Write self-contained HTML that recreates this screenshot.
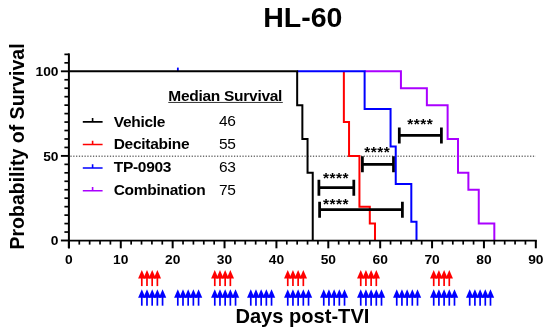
<!DOCTYPE html><html><head><meta charset="utf-8"><title>HL-60</title><style>html,body{margin:0;padding:0;background:#fff}svg{display:block;filter:blur(0.3px)}text{font-family:"Liberation Sans", sans-serif;fill:#000}</style></head><body>
<svg width="550" height="334" viewBox="0 0 550 334">
<rect width="550" height="334" fill="#fff"/>
<text transform="translate(302.80 27.10) scale(1.030 1.000)" font-size="27.7" font-weight="bold" text-anchor="middle">HL-60</text>
<line x1="70.40" y1="156.3" x2="535.8" y2="156.3" stroke="#707070" stroke-width="1.4" stroke-dasharray="1.25 1.57"/>
<path d="M343.86 71.30 H343.86 V122.06 H349.05 V155.90 H359.43 V206.66 H369.80 V223.58 H374.99 V240.50" fill="none" stroke="#ff0000" stroke-width="2" stroke-linejoin="miter"/>
<path d="M318.90 187.70 H353.80 M318.90 179.70 V195.70 M353.80 179.70 V195.70" stroke="#000" stroke-width="2.75" fill="none"/>
<path d="M319.60 209.70 H402.40 M319.60 201.70 V217.70 M402.40 201.70 V217.70" stroke="#000" stroke-width="2.75" fill="none"/>
<path d="M362.40 164.30 H393.50 M362.40 156.30 V172.30 M393.50 156.30 V172.30" stroke="#000" stroke-width="2.75" fill="none"/>
<path d="M399.30 135.40 H441.40 M399.30 127.40 V143.40 M441.40 127.40 V143.40" stroke="#000" stroke-width="2.75" fill="none"/>
<text transform="translate(323.00 182.70) scale(1.000 0.999)" font-size="15.5" font-weight="bold" text-anchor="start" letter-spacing="0.45">****</text>
<text transform="translate(323.10 208.80) scale(1.000 0.999)" font-size="15.5" font-weight="bold" text-anchor="start" letter-spacing="0.45">****</text>
<text transform="translate(364.20 157.00) scale(1.000 0.999)" font-size="15.5" font-weight="bold" text-anchor="start" letter-spacing="0.45">****</text>
<text transform="translate(407.20 129.10) scale(1.000 0.999)" font-size="15.5" font-weight="bold" text-anchor="start" letter-spacing="0.45">****</text>
<path d="M364.62 71.30 H400.93 V88.22 H426.87 V105.14 H447.62 V138.98 H458.00 V172.82 H468.38 V189.74 H478.75 V223.58 H494.32 V240.50" fill="none" stroke="#aa00ff" stroke-width="2" stroke-linejoin="miter"/>
<path d="M297.17 71.30 H364.62 V108.90 H390.56 V146.49 H395.74 V184.11 H411.31 V221.70 H416.50 V240.50" fill="none" stroke="#0000ff" stroke-width="2" stroke-linejoin="miter"/>
<line x1="177.85" y1="67.6" x2="177.85" y2="71.3" stroke="#0000ff" stroke-width="1.8"/>
<path d="M68.90 71.30 H297.17 V105.14 H302.36 V138.98 H307.55 V172.82 H312.74 V240.50" fill="none" stroke="#000" stroke-width="2" stroke-linejoin="miter"/>
<line x1="68.90" y1="53.38" x2="68.90" y2="248.3" stroke="#000" stroke-width="2.0"/>
<line x1="68.90" y1="240.60" x2="536.82" y2="240.60" stroke="#000" stroke-width="1.7"/>
<line x1="60.90" y1="240.50" x2="68.90" y2="240.50" stroke="#000" stroke-width="1.9"/>
<line x1="64.40" y1="232.04" x2="68.90" y2="232.04" stroke="#000" stroke-width="1.7"/>
<line x1="64.40" y1="223.58" x2="68.90" y2="223.58" stroke="#000" stroke-width="1.7"/>
<line x1="64.40" y1="215.12" x2="68.90" y2="215.12" stroke="#000" stroke-width="1.7"/>
<line x1="64.40" y1="206.66" x2="68.90" y2="206.66" stroke="#000" stroke-width="1.7"/>
<line x1="64.40" y1="198.20" x2="68.90" y2="198.20" stroke="#000" stroke-width="1.7"/>
<line x1="64.40" y1="189.74" x2="68.90" y2="189.74" stroke="#000" stroke-width="1.7"/>
<line x1="64.40" y1="181.28" x2="68.90" y2="181.28" stroke="#000" stroke-width="1.7"/>
<line x1="64.40" y1="172.82" x2="68.90" y2="172.82" stroke="#000" stroke-width="1.7"/>
<line x1="64.40" y1="164.36" x2="68.90" y2="164.36" stroke="#000" stroke-width="1.7"/>
<line x1="60.90" y1="155.90" x2="68.90" y2="155.90" stroke="#000" stroke-width="1.9"/>
<line x1="64.40" y1="147.44" x2="68.90" y2="147.44" stroke="#000" stroke-width="1.7"/>
<line x1="64.40" y1="138.98" x2="68.90" y2="138.98" stroke="#000" stroke-width="1.7"/>
<line x1="64.40" y1="130.52" x2="68.90" y2="130.52" stroke="#000" stroke-width="1.7"/>
<line x1="64.40" y1="122.06" x2="68.90" y2="122.06" stroke="#000" stroke-width="1.7"/>
<line x1="64.40" y1="113.60" x2="68.90" y2="113.60" stroke="#000" stroke-width="1.7"/>
<line x1="64.40" y1="105.14" x2="68.90" y2="105.14" stroke="#000" stroke-width="1.7"/>
<line x1="64.40" y1="96.68" x2="68.90" y2="96.68" stroke="#000" stroke-width="1.7"/>
<line x1="64.40" y1="88.22" x2="68.90" y2="88.22" stroke="#000" stroke-width="1.7"/>
<line x1="64.40" y1="79.76" x2="68.90" y2="79.76" stroke="#000" stroke-width="1.7"/>
<line x1="60.90" y1="71.30" x2="68.90" y2="71.30" stroke="#000" stroke-width="1.9"/>
<line x1="64.40" y1="62.84" x2="68.90" y2="62.84" stroke="#000" stroke-width="1.7"/>
<line x1="64.40" y1="54.38" x2="68.90" y2="54.38" stroke="#000" stroke-width="1.7"/>
<line x1="68.90" y1="240.50" x2="68.90" y2="248.30" stroke="#000" stroke-width="2.0"/>
<line x1="79.28" y1="240.50" x2="79.28" y2="244.60" stroke="#000" stroke-width="1.7"/>
<line x1="89.65" y1="240.50" x2="89.65" y2="244.60" stroke="#000" stroke-width="1.7"/>
<line x1="100.03" y1="240.50" x2="100.03" y2="244.60" stroke="#000" stroke-width="1.7"/>
<line x1="110.40" y1="240.50" x2="110.40" y2="244.60" stroke="#000" stroke-width="1.7"/>
<line x1="120.78" y1="240.50" x2="120.78" y2="248.30" stroke="#000" stroke-width="2.0"/>
<line x1="131.16" y1="240.50" x2="131.16" y2="244.60" stroke="#000" stroke-width="1.7"/>
<line x1="141.53" y1="240.50" x2="141.53" y2="244.60" stroke="#000" stroke-width="1.7"/>
<line x1="151.91" y1="240.50" x2="151.91" y2="244.60" stroke="#000" stroke-width="1.7"/>
<line x1="162.28" y1="240.50" x2="162.28" y2="244.60" stroke="#000" stroke-width="1.7"/>
<line x1="172.66" y1="240.50" x2="172.66" y2="248.30" stroke="#000" stroke-width="2.0"/>
<line x1="183.04" y1="240.50" x2="183.04" y2="244.60" stroke="#000" stroke-width="1.7"/>
<line x1="193.41" y1="240.50" x2="193.41" y2="244.60" stroke="#000" stroke-width="1.7"/>
<line x1="203.79" y1="240.50" x2="203.79" y2="244.60" stroke="#000" stroke-width="1.7"/>
<line x1="214.16" y1="240.50" x2="214.16" y2="244.60" stroke="#000" stroke-width="1.7"/>
<line x1="224.54" y1="240.50" x2="224.54" y2="248.30" stroke="#000" stroke-width="2.0"/>
<line x1="234.92" y1="240.50" x2="234.92" y2="244.60" stroke="#000" stroke-width="1.7"/>
<line x1="245.29" y1="240.50" x2="245.29" y2="244.60" stroke="#000" stroke-width="1.7"/>
<line x1="255.67" y1="240.50" x2="255.67" y2="244.60" stroke="#000" stroke-width="1.7"/>
<line x1="266.04" y1="240.50" x2="266.04" y2="244.60" stroke="#000" stroke-width="1.7"/>
<line x1="276.42" y1="240.50" x2="276.42" y2="248.30" stroke="#000" stroke-width="2.0"/>
<line x1="286.80" y1="240.50" x2="286.80" y2="244.60" stroke="#000" stroke-width="1.7"/>
<line x1="297.17" y1="240.50" x2="297.17" y2="244.60" stroke="#000" stroke-width="1.7"/>
<line x1="307.55" y1="240.50" x2="307.55" y2="244.60" stroke="#000" stroke-width="1.7"/>
<line x1="317.92" y1="240.50" x2="317.92" y2="244.60" stroke="#000" stroke-width="1.7"/>
<line x1="328.30" y1="240.50" x2="328.30" y2="248.30" stroke="#000" stroke-width="2.0"/>
<line x1="338.68" y1="240.50" x2="338.68" y2="244.60" stroke="#000" stroke-width="1.7"/>
<line x1="349.05" y1="240.50" x2="349.05" y2="244.60" stroke="#000" stroke-width="1.7"/>
<line x1="359.43" y1="240.50" x2="359.43" y2="244.60" stroke="#000" stroke-width="1.7"/>
<line x1="369.80" y1="240.50" x2="369.80" y2="244.60" stroke="#000" stroke-width="1.7"/>
<line x1="380.18" y1="240.50" x2="380.18" y2="248.30" stroke="#000" stroke-width="2.0"/>
<line x1="390.56" y1="240.50" x2="390.56" y2="244.60" stroke="#000" stroke-width="1.7"/>
<line x1="400.93" y1="240.50" x2="400.93" y2="244.60" stroke="#000" stroke-width="1.7"/>
<line x1="411.31" y1="240.50" x2="411.31" y2="244.60" stroke="#000" stroke-width="1.7"/>
<line x1="421.68" y1="240.50" x2="421.68" y2="244.60" stroke="#000" stroke-width="1.7"/>
<line x1="432.06" y1="240.50" x2="432.06" y2="248.30" stroke="#000" stroke-width="2.0"/>
<line x1="442.44" y1="240.50" x2="442.44" y2="244.60" stroke="#000" stroke-width="1.7"/>
<line x1="452.81" y1="240.50" x2="452.81" y2="244.60" stroke="#000" stroke-width="1.7"/>
<line x1="463.19" y1="240.50" x2="463.19" y2="244.60" stroke="#000" stroke-width="1.7"/>
<line x1="473.56" y1="240.50" x2="473.56" y2="244.60" stroke="#000" stroke-width="1.7"/>
<line x1="483.94" y1="240.50" x2="483.94" y2="248.30" stroke="#000" stroke-width="2.0"/>
<line x1="494.32" y1="240.50" x2="494.32" y2="244.60" stroke="#000" stroke-width="1.7"/>
<line x1="504.69" y1="240.50" x2="504.69" y2="244.60" stroke="#000" stroke-width="1.7"/>
<line x1="515.07" y1="240.50" x2="515.07" y2="244.60" stroke="#000" stroke-width="1.7"/>
<line x1="525.44" y1="240.50" x2="525.44" y2="244.60" stroke="#000" stroke-width="1.7"/>
<line x1="535.82" y1="240.50" x2="535.82" y2="248.30" stroke="#000" stroke-width="2.0"/>
<text transform="translate(68.90 263.80) scale(1.000 0.985)" font-size="13.8" font-weight="bold" text-anchor="middle">0</text>
<text transform="translate(120.78 263.80) scale(1.000 0.985)" font-size="13.8" font-weight="bold" text-anchor="middle">10</text>
<text transform="translate(172.66 263.80) scale(1.000 0.985)" font-size="13.8" font-weight="bold" text-anchor="middle">20</text>
<text transform="translate(224.54 263.80) scale(1.000 0.985)" font-size="13.8" font-weight="bold" text-anchor="middle">30</text>
<text transform="translate(276.42 263.80) scale(1.000 0.985)" font-size="13.8" font-weight="bold" text-anchor="middle">40</text>
<text transform="translate(328.30 263.80) scale(1.000 0.985)" font-size="13.8" font-weight="bold" text-anchor="middle">50</text>
<text transform="translate(380.18 263.80) scale(1.000 0.985)" font-size="13.8" font-weight="bold" text-anchor="middle">60</text>
<text transform="translate(432.06 263.80) scale(1.000 0.985)" font-size="13.8" font-weight="bold" text-anchor="middle">70</text>
<text transform="translate(483.94 263.80) scale(1.000 0.985)" font-size="13.8" font-weight="bold" text-anchor="middle">80</text>
<text transform="translate(535.82 263.80) scale(1.000 0.985)" font-size="13.8" font-weight="bold" text-anchor="middle">90</text>
<text transform="translate(58.50 245.40) scale(1.000 0.985)" font-size="13.8" font-weight="bold" text-anchor="end">0</text>
<text transform="translate(58.50 160.80) scale(1.000 0.985)" font-size="13.8" font-weight="bold" text-anchor="end">50</text>
<text transform="translate(58.50 76.20) scale(1.000 0.985)" font-size="13.8" font-weight="bold" text-anchor="end">100</text>
<text transform="translate(302.40 322.90) scale(1.000 1.010)" font-size="20.1" font-weight="bold" text-anchor="middle">Days post-TVI</text>
<text transform="translate(23.6 146.5) rotate(-90)" font-size="19.55" font-weight="bold" text-anchor="middle">Probability of Survival</text>
<text x="168.30" y="101.25" font-size="15.5" font-weight="bold" text-anchor="start" letter-spacing="-0.28">Median Survival</text>
<line x1="168.3" y1="102.45" x2="282.8" y2="102.45" stroke="#333" stroke-width="1"/>
<path d="M82.8 121.90 H102.6 M92.6 121.90 V118.10" stroke="#000" stroke-width="1.6" fill="none"/>
<text x="113.70" y="126.50" font-size="15.5" font-weight="bold" text-anchor="start" letter-spacing="-0.28">Vehicle</text>
<text x="218.90" y="126.40" font-size="15.5" text-anchor="start" letter-spacing="-0.3">46</text>
<path d="M82.8 144.50 H102.6 M92.6 144.50 V140.70" stroke="#ff0000" stroke-width="1.6" fill="none"/>
<text x="113.70" y="149.20" font-size="15.5" font-weight="bold" text-anchor="start" letter-spacing="-0.28">Decitabine</text>
<text x="218.90" y="149.10" font-size="15.5" text-anchor="start" letter-spacing="-0.3">55</text>
<path d="M82.8 168.00 H102.6 M92.6 168.00 V164.20" stroke="#0000ff" stroke-width="1.6" fill="none"/>
<text x="113.70" y="172.20" font-size="15.5" font-weight="bold" text-anchor="start" letter-spacing="-0.28">TP-0903</text>
<text x="218.90" y="172.10" font-size="15.5" text-anchor="start" letter-spacing="-0.3">63</text>
<path d="M82.8 190.80 H102.6 M92.6 190.80 V187.00" stroke="#aa00ff" stroke-width="1.6" fill="none"/>
<text x="113.70" y="195.10" font-size="15.5" font-weight="bold" text-anchor="start" letter-spacing="-0.28">Combination</text>
<text x="218.90" y="195.00" font-size="15.5" text-anchor="start" letter-spacing="-0.3">75</text>
<path d="M141.80 270.00 L145.50 278.50 L138.10 278.50 Z" fill="#ff0000"/><line x1="141.80" y1="277.50" x2="141.80" y2="286.10" stroke="#ff0000" stroke-width="1.7"/>
<path d="M146.99 270.00 L150.69 278.50 L143.29 278.50 Z" fill="#ff0000"/><line x1="146.99" y1="277.50" x2="146.99" y2="286.10" stroke="#ff0000" stroke-width="1.7"/>
<path d="M152.18 270.00 L155.88 278.50 L148.48 278.50 Z" fill="#ff0000"/><line x1="152.18" y1="277.50" x2="152.18" y2="286.10" stroke="#ff0000" stroke-width="1.7"/>
<path d="M157.37 270.00 L161.07 278.50 L153.67 278.50 Z" fill="#ff0000"/><line x1="157.37" y1="277.50" x2="157.37" y2="286.10" stroke="#ff0000" stroke-width="1.7"/>
<path d="M141.80 289.30 L145.50 297.70 L138.10 297.70 Z" fill="#0000ff"/><line x1="141.80" y1="296.70" x2="141.80" y2="305.70" stroke="#0000ff" stroke-width="1.7"/>
<path d="M146.99 289.30 L150.69 297.70 L143.29 297.70 Z" fill="#0000ff"/><line x1="146.99" y1="296.70" x2="146.99" y2="305.70" stroke="#0000ff" stroke-width="1.7"/>
<path d="M152.18 289.30 L155.88 297.70 L148.48 297.70 Z" fill="#0000ff"/><line x1="152.18" y1="296.70" x2="152.18" y2="305.70" stroke="#0000ff" stroke-width="1.7"/>
<path d="M157.37 289.30 L161.07 297.70 L153.67 297.70 Z" fill="#0000ff"/><line x1="157.37" y1="296.70" x2="157.37" y2="305.70" stroke="#0000ff" stroke-width="1.7"/>
<path d="M162.56 289.30 L166.26 297.70 L158.86 297.70 Z" fill="#0000ff"/><line x1="162.56" y1="296.70" x2="162.56" y2="305.70" stroke="#0000ff" stroke-width="1.7"/>
<path d="M177.80 289.30 L181.50 297.70 L174.10 297.70 Z" fill="#0000ff"/><line x1="177.80" y1="296.70" x2="177.80" y2="305.70" stroke="#0000ff" stroke-width="1.7"/>
<path d="M182.99 289.30 L186.69 297.70 L179.29 297.70 Z" fill="#0000ff"/><line x1="182.99" y1="296.70" x2="182.99" y2="305.70" stroke="#0000ff" stroke-width="1.7"/>
<path d="M188.18 289.30 L191.88 297.70 L184.48 297.70 Z" fill="#0000ff"/><line x1="188.18" y1="296.70" x2="188.18" y2="305.70" stroke="#0000ff" stroke-width="1.7"/>
<path d="M193.37 289.30 L197.07 297.70 L189.67 297.70 Z" fill="#0000ff"/><line x1="193.37" y1="296.70" x2="193.37" y2="305.70" stroke="#0000ff" stroke-width="1.7"/>
<path d="M198.56 289.30 L202.26 297.70 L194.86 297.70 Z" fill="#0000ff"/><line x1="198.56" y1="296.70" x2="198.56" y2="305.70" stroke="#0000ff" stroke-width="1.7"/>
<path d="M214.78 270.00 L218.48 278.50 L211.08 278.50 Z" fill="#ff0000"/><line x1="214.78" y1="277.50" x2="214.78" y2="286.10" stroke="#ff0000" stroke-width="1.7"/>
<path d="M219.97 270.00 L223.67 278.50 L216.27 278.50 Z" fill="#ff0000"/><line x1="219.97" y1="277.50" x2="219.97" y2="286.10" stroke="#ff0000" stroke-width="1.7"/>
<path d="M225.16 270.00 L228.86 278.50 L221.46 278.50 Z" fill="#ff0000"/><line x1="225.16" y1="277.50" x2="225.16" y2="286.10" stroke="#ff0000" stroke-width="1.7"/>
<path d="M230.35 270.00 L234.05 278.50 L226.65 278.50 Z" fill="#ff0000"/><line x1="230.35" y1="277.50" x2="230.35" y2="286.10" stroke="#ff0000" stroke-width="1.7"/>
<path d="M214.78 289.30 L218.48 297.70 L211.08 297.70 Z" fill="#0000ff"/><line x1="214.78" y1="296.70" x2="214.78" y2="305.70" stroke="#0000ff" stroke-width="1.7"/>
<path d="M219.97 289.30 L223.67 297.70 L216.27 297.70 Z" fill="#0000ff"/><line x1="219.97" y1="296.70" x2="219.97" y2="305.70" stroke="#0000ff" stroke-width="1.7"/>
<path d="M225.16 289.30 L228.86 297.70 L221.46 297.70 Z" fill="#0000ff"/><line x1="225.16" y1="296.70" x2="225.16" y2="305.70" stroke="#0000ff" stroke-width="1.7"/>
<path d="M230.35 289.30 L234.05 297.70 L226.65 297.70 Z" fill="#0000ff"/><line x1="230.35" y1="296.70" x2="230.35" y2="305.70" stroke="#0000ff" stroke-width="1.7"/>
<path d="M235.54 289.30 L239.24 297.70 L231.84 297.70 Z" fill="#0000ff"/><line x1="235.54" y1="296.70" x2="235.54" y2="305.70" stroke="#0000ff" stroke-width="1.7"/>
<path d="M250.78 289.30 L254.48 297.70 L247.08 297.70 Z" fill="#0000ff"/><line x1="250.78" y1="296.70" x2="250.78" y2="305.70" stroke="#0000ff" stroke-width="1.7"/>
<path d="M255.97 289.30 L259.67 297.70 L252.27 297.70 Z" fill="#0000ff"/><line x1="255.97" y1="296.70" x2="255.97" y2="305.70" stroke="#0000ff" stroke-width="1.7"/>
<path d="M261.16 289.30 L264.86 297.70 L257.46 297.70 Z" fill="#0000ff"/><line x1="261.16" y1="296.70" x2="261.16" y2="305.70" stroke="#0000ff" stroke-width="1.7"/>
<path d="M266.35 289.30 L270.05 297.70 L262.65 297.70 Z" fill="#0000ff"/><line x1="266.35" y1="296.70" x2="266.35" y2="305.70" stroke="#0000ff" stroke-width="1.7"/>
<path d="M271.54 289.30 L275.24 297.70 L267.84 297.70 Z" fill="#0000ff"/><line x1="271.54" y1="296.70" x2="271.54" y2="305.70" stroke="#0000ff" stroke-width="1.7"/>
<path d="M287.76 270.00 L291.46 278.50 L284.06 278.50 Z" fill="#ff0000"/><line x1="287.76" y1="277.50" x2="287.76" y2="286.10" stroke="#ff0000" stroke-width="1.7"/>
<path d="M292.95 270.00 L296.65 278.50 L289.25 278.50 Z" fill="#ff0000"/><line x1="292.95" y1="277.50" x2="292.95" y2="286.10" stroke="#ff0000" stroke-width="1.7"/>
<path d="M298.14 270.00 L301.84 278.50 L294.44 278.50 Z" fill="#ff0000"/><line x1="298.14" y1="277.50" x2="298.14" y2="286.10" stroke="#ff0000" stroke-width="1.7"/>
<path d="M303.33 270.00 L307.03 278.50 L299.63 278.50 Z" fill="#ff0000"/><line x1="303.33" y1="277.50" x2="303.33" y2="286.10" stroke="#ff0000" stroke-width="1.7"/>
<path d="M287.76 289.30 L291.46 297.70 L284.06 297.70 Z" fill="#0000ff"/><line x1="287.76" y1="296.70" x2="287.76" y2="305.70" stroke="#0000ff" stroke-width="1.7"/>
<path d="M292.95 289.30 L296.65 297.70 L289.25 297.70 Z" fill="#0000ff"/><line x1="292.95" y1="296.70" x2="292.95" y2="305.70" stroke="#0000ff" stroke-width="1.7"/>
<path d="M298.14 289.30 L301.84 297.70 L294.44 297.70 Z" fill="#0000ff"/><line x1="298.14" y1="296.70" x2="298.14" y2="305.70" stroke="#0000ff" stroke-width="1.7"/>
<path d="M303.33 289.30 L307.03 297.70 L299.63 297.70 Z" fill="#0000ff"/><line x1="303.33" y1="296.70" x2="303.33" y2="305.70" stroke="#0000ff" stroke-width="1.7"/>
<path d="M308.52 289.30 L312.22 297.70 L304.82 297.70 Z" fill="#0000ff"/><line x1="308.52" y1="296.70" x2="308.52" y2="305.70" stroke="#0000ff" stroke-width="1.7"/>
<path d="M323.76 289.30 L327.46 297.70 L320.06 297.70 Z" fill="#0000ff"/><line x1="323.76" y1="296.70" x2="323.76" y2="305.70" stroke="#0000ff" stroke-width="1.7"/>
<path d="M328.95 289.30 L332.65 297.70 L325.25 297.70 Z" fill="#0000ff"/><line x1="328.95" y1="296.70" x2="328.95" y2="305.70" stroke="#0000ff" stroke-width="1.7"/>
<path d="M334.14 289.30 L337.84 297.70 L330.44 297.70 Z" fill="#0000ff"/><line x1="334.14" y1="296.70" x2="334.14" y2="305.70" stroke="#0000ff" stroke-width="1.7"/>
<path d="M339.33 289.30 L343.03 297.70 L335.63 297.70 Z" fill="#0000ff"/><line x1="339.33" y1="296.70" x2="339.33" y2="305.70" stroke="#0000ff" stroke-width="1.7"/>
<path d="M344.52 289.30 L348.22 297.70 L340.82 297.70 Z" fill="#0000ff"/><line x1="344.52" y1="296.70" x2="344.52" y2="305.70" stroke="#0000ff" stroke-width="1.7"/>
<path d="M360.74 270.00 L364.44 278.50 L357.04 278.50 Z" fill="#ff0000"/><line x1="360.74" y1="277.50" x2="360.74" y2="286.10" stroke="#ff0000" stroke-width="1.7"/>
<path d="M365.93 270.00 L369.63 278.50 L362.23 278.50 Z" fill="#ff0000"/><line x1="365.93" y1="277.50" x2="365.93" y2="286.10" stroke="#ff0000" stroke-width="1.7"/>
<path d="M371.12 270.00 L374.82 278.50 L367.42 278.50 Z" fill="#ff0000"/><line x1="371.12" y1="277.50" x2="371.12" y2="286.10" stroke="#ff0000" stroke-width="1.7"/>
<path d="M376.31 270.00 L380.01 278.50 L372.61 278.50 Z" fill="#ff0000"/><line x1="376.31" y1="277.50" x2="376.31" y2="286.10" stroke="#ff0000" stroke-width="1.7"/>
<path d="M360.74 289.30 L364.44 297.70 L357.04 297.70 Z" fill="#0000ff"/><line x1="360.74" y1="296.70" x2="360.74" y2="305.70" stroke="#0000ff" stroke-width="1.7"/>
<path d="M365.93 289.30 L369.63 297.70 L362.23 297.70 Z" fill="#0000ff"/><line x1="365.93" y1="296.70" x2="365.93" y2="305.70" stroke="#0000ff" stroke-width="1.7"/>
<path d="M371.12 289.30 L374.82 297.70 L367.42 297.70 Z" fill="#0000ff"/><line x1="371.12" y1="296.70" x2="371.12" y2="305.70" stroke="#0000ff" stroke-width="1.7"/>
<path d="M376.31 289.30 L380.01 297.70 L372.61 297.70 Z" fill="#0000ff"/><line x1="376.31" y1="296.70" x2="376.31" y2="305.70" stroke="#0000ff" stroke-width="1.7"/>
<path d="M381.50 289.30 L385.20 297.70 L377.80 297.70 Z" fill="#0000ff"/><line x1="381.50" y1="296.70" x2="381.50" y2="305.70" stroke="#0000ff" stroke-width="1.7"/>
<path d="M396.74 289.30 L400.44 297.70 L393.04 297.70 Z" fill="#0000ff"/><line x1="396.74" y1="296.70" x2="396.74" y2="305.70" stroke="#0000ff" stroke-width="1.7"/>
<path d="M401.93 289.30 L405.63 297.70 L398.23 297.70 Z" fill="#0000ff"/><line x1="401.93" y1="296.70" x2="401.93" y2="305.70" stroke="#0000ff" stroke-width="1.7"/>
<path d="M407.12 289.30 L410.82 297.70 L403.42 297.70 Z" fill="#0000ff"/><line x1="407.12" y1="296.70" x2="407.12" y2="305.70" stroke="#0000ff" stroke-width="1.7"/>
<path d="M412.31 289.30 L416.01 297.70 L408.61 297.70 Z" fill="#0000ff"/><line x1="412.31" y1="296.70" x2="412.31" y2="305.70" stroke="#0000ff" stroke-width="1.7"/>
<path d="M417.50 289.30 L421.20 297.70 L413.80 297.70 Z" fill="#0000ff"/><line x1="417.50" y1="296.70" x2="417.50" y2="305.70" stroke="#0000ff" stroke-width="1.7"/>
<path d="M433.72 270.00 L437.42 278.50 L430.02 278.50 Z" fill="#ff0000"/><line x1="433.72" y1="277.50" x2="433.72" y2="286.10" stroke="#ff0000" stroke-width="1.7"/>
<path d="M438.91 270.00 L442.61 278.50 L435.21 278.50 Z" fill="#ff0000"/><line x1="438.91" y1="277.50" x2="438.91" y2="286.10" stroke="#ff0000" stroke-width="1.7"/>
<path d="M444.10 270.00 L447.80 278.50 L440.40 278.50 Z" fill="#ff0000"/><line x1="444.10" y1="277.50" x2="444.10" y2="286.10" stroke="#ff0000" stroke-width="1.7"/>
<path d="M449.29 270.00 L452.99 278.50 L445.59 278.50 Z" fill="#ff0000"/><line x1="449.29" y1="277.50" x2="449.29" y2="286.10" stroke="#ff0000" stroke-width="1.7"/>
<path d="M433.72 289.30 L437.42 297.70 L430.02 297.70 Z" fill="#0000ff"/><line x1="433.72" y1="296.70" x2="433.72" y2="305.70" stroke="#0000ff" stroke-width="1.7"/>
<path d="M438.91 289.30 L442.61 297.70 L435.21 297.70 Z" fill="#0000ff"/><line x1="438.91" y1="296.70" x2="438.91" y2="305.70" stroke="#0000ff" stroke-width="1.7"/>
<path d="M444.10 289.30 L447.80 297.70 L440.40 297.70 Z" fill="#0000ff"/><line x1="444.10" y1="296.70" x2="444.10" y2="305.70" stroke="#0000ff" stroke-width="1.7"/>
<path d="M449.29 289.30 L452.99 297.70 L445.59 297.70 Z" fill="#0000ff"/><line x1="449.29" y1="296.70" x2="449.29" y2="305.70" stroke="#0000ff" stroke-width="1.7"/>
<path d="M454.48 289.30 L458.18 297.70 L450.78 297.70 Z" fill="#0000ff"/><line x1="454.48" y1="296.70" x2="454.48" y2="305.70" stroke="#0000ff" stroke-width="1.7"/>
<path d="M469.72 289.30 L473.42 297.70 L466.02 297.70 Z" fill="#0000ff"/><line x1="469.72" y1="296.70" x2="469.72" y2="305.70" stroke="#0000ff" stroke-width="1.7"/>
<path d="M474.91 289.30 L478.61 297.70 L471.21 297.70 Z" fill="#0000ff"/><line x1="474.91" y1="296.70" x2="474.91" y2="305.70" stroke="#0000ff" stroke-width="1.7"/>
<path d="M480.10 289.30 L483.80 297.70 L476.40 297.70 Z" fill="#0000ff"/><line x1="480.10" y1="296.70" x2="480.10" y2="305.70" stroke="#0000ff" stroke-width="1.7"/>
<path d="M485.29 289.30 L488.99 297.70 L481.59 297.70 Z" fill="#0000ff"/><line x1="485.29" y1="296.70" x2="485.29" y2="305.70" stroke="#0000ff" stroke-width="1.7"/>
<path d="M490.48 289.30 L494.18 297.70 L486.78 297.70 Z" fill="#0000ff"/><line x1="490.48" y1="296.70" x2="490.48" y2="305.70" stroke="#0000ff" stroke-width="1.7"/>
</svg></body></html>
